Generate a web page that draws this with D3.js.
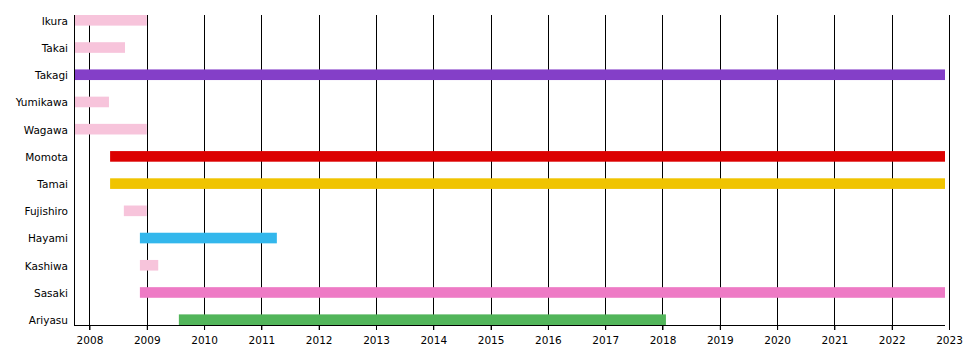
<!DOCTYPE html>
<html lang="en">
<head>
    <meta charset="UTF-8">
    <title>Member timeline</title>
    <style>
        body { margin: 0; padding: 0; background: #fff; }
        svg { display: block; font-family: "DejaVu Sans", sans-serif; }
    </style>
    <script src="https://d3js.org/d3.v7.min.js"></script>
</head>
<body>
<svg id="chart" width="968" height="350"></svg>
<script>
    // members, top to bottom
    const members = ['Ikura', 'Takai', 'Takagi', 'Yumikawa', 'Wagawa', 'Momota',
                     'Tamai', 'Fujishiro', 'Hayami', 'Kashiwa', 'Sasaki', 'Ariyasu'];
    // active periods, as fractional years
    const starts = [2007.73, 2007.73, 2007.73, 2007.73, 2007.73, 2008.36,
                    2008.36, 2008.60, 2008.88, 2008.88, 2008.88, 2009.56];
    const ends   = [2009.00, 2008.62, 2022.93, 2008.34, 2009.00, 2022.93,
                    2022.93, 2009.00, 2011.27, 2009.20, 2022.93, 2018.06];
    const colors = ['#f7c4db', '#f7c4db', '#843fc8', '#f7c4db', '#f7c4db', '#dc0000',
                    '#f0c400', '#f7c4db', '#33b7ec', '#f7c4db', '#ee7ac5', '#52b55a'];
    const yearTicks = d3.range(2008, 2024);

    const svg = d3.select('#chart');
    const plotLeft = 74, plotRight = 945, plotTop = 15, plotBottom = 325;

    const x = d3.scaleLinear().domain([2007.73, 2022.93]).range([plotLeft, plotRight]);
    const y = d3.scaleBand().domain(members).range([plotTop, plotBottom])
        .paddingInner(0.61).paddingOuter(0);

    // vertical year lines
    svg.append('g').selectAll('line')
        .data(yearTicks)
        .join('line')
        .attr('x1', d => Math.round(x(d)) + 0.5)
        .attr('x2', d => Math.round(x(d)) + 0.5)
        .attr('y1', plotTop)
        .attr('y2', plotBottom + 5)
        .attr('stroke', '#000')
        .attr('stroke-width', 1);

    // bars
    svg.append('g').selectAll('rect')
        .data(members)
        .join('rect')
        .attr('x', (d, i) => x(starts[i]))
        .attr('width', (d, i) => x(ends[i]) - x(starts[i]))
        .attr('y', d => y(d))
        .attr('height', y.bandwidth())
        .attr('fill', (d, i) => colors[i]);

    // bottom axis
    const xAxis = svg.append('g')
        .attr('transform', `translate(0,${plotBottom})`)
        .call(d3.axisBottom(x).tickValues(yearTicks).tickFormat(d3.format('d'))
            .tickSize(5).tickSizeOuter(0));
    xAxis.select('.domain').attr('stroke', '#000').attr('d', `M${plotLeft},0.5H${plotRight}`);
    xAxis.selectAll('.tick line').attr('stroke', '#000');
    xAxis.selectAll('.tick text')
        .attr('font-family', '"DejaVu Sans", sans-serif')
        .attr('font-size', 10.5)
        .attr('fill', '#000')
        .attr('dy', '1em');

    // left axis
    const yAxis = svg.append('g')
        .attr('transform', `translate(${plotLeft},0)`)
        .call(d3.axisLeft(y).tickSize(0).tickPadding(6));
    yAxis.select('.domain').attr('stroke', '#000').attr('d', `M0.5,${plotTop}V${plotBottom}`);
    yAxis.selectAll('.tick text')
        .attr('font-family', '"DejaVu Sans", sans-serif')
        .attr('font-size', 10.5)
        .attr('fill', '#000')
        .attr('dy', '0.42em');
</script>
</body>
</html>
